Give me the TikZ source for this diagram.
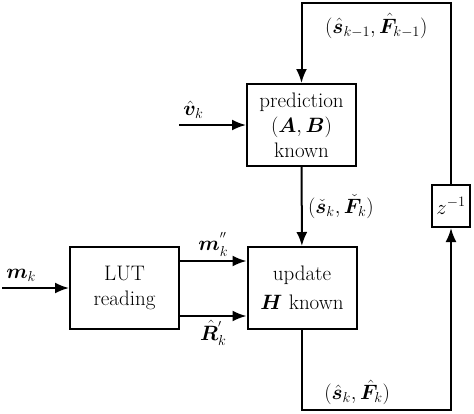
\documentclass[tikz,border=0pt]{standalone}
\usepackage{amsmath,bm}
\usetikzlibrary{arrows.meta}
\begin{document}
\begin{tikzpicture}[x=1pt, y=-1pt, >={Latex[length=14pt,width=11pt]}, line width=2pt,
    block/.style={draw, line width=2pt, align=center, inner sep=0pt,
      minimum width=109pt, minimum height=82pt},
    delay/.style={draw, line width=2pt, inner sep=0pt,
      minimum width=38pt, minimum height=42pt},
    lbl/.style={font=\fontsize{22.5}{26}\selectfont},
    every node/.style={font=\fontsize{21}{25}\selectfont}]

        \useasboundingbox (0,0) rectangle (474,413);

        % Bloecke
        \node[block] (pred) at (301.5,125) {prediction\\$(\bm{A},\bm{B})$\\known};
        \node[block] (upd) at (302,288) {update\\[4pt]$\bm{H}$ known};
        \node[block] (lut) at (124.5,288) {LUT\\reading};
        \node[delay, lbl] (zb) at (451,206) {$z^{-1}$};

        % freie Enden
        \coordinate (vin) at (179,125);
        \coordinate (min) at (2,288);
        \coordinate (top) at (0,3);
        \coordinate (bot) at (0,410);

        % Eingaenge
        \draw[->] (vin) -- (pred) node[lbl, pos=0, above right, yshift=2pt] {$\hat{\bm v}_k$};
        \draw[->] (min) -- (lut) node[lbl, pos=0, above right, yshift=2pt] {$\bm m_k$};

        % LUT -> update
        \draw[->] ([yshift=27pt]lut.east) -- ([yshift=27pt]upd.west)
            node[lbl, midway, above] {$\bm m_k^{''}$};
        \draw[->] ([yshift=-28pt]lut.east) -- ([yshift=-28pt]upd.west)
            node[lbl, midway, below] {$\hat{\bm R}_k^{'}$};

        % prediction -> update
        \draw[->] (pred) -- (upd) node[lbl, midway, right, xshift=2pt] {$(\check{\bm s}_k,\check{\bm F}_k)$};

        % Rueckfuehrung
        \draw[->] (upd.south) -- (upd.south |- bot) -- (zb.south |- bot)
            node[lbl, pos=0.37, above, yshift=1pt] {$(\hat{\bm s}_k,\hat{\bm F}_k)$} -- (zb.south);
        \draw[->] (zb.north) -- (zb.north |- top) -- (pred.north |- top)
            node[lbl, midway, below, yshift=-6pt] {$(\hat{\bm s}_{k-1},\hat{\bm F}_{k-1})$} -- (pred.north);

    \end{tikzpicture}
\end{document}
